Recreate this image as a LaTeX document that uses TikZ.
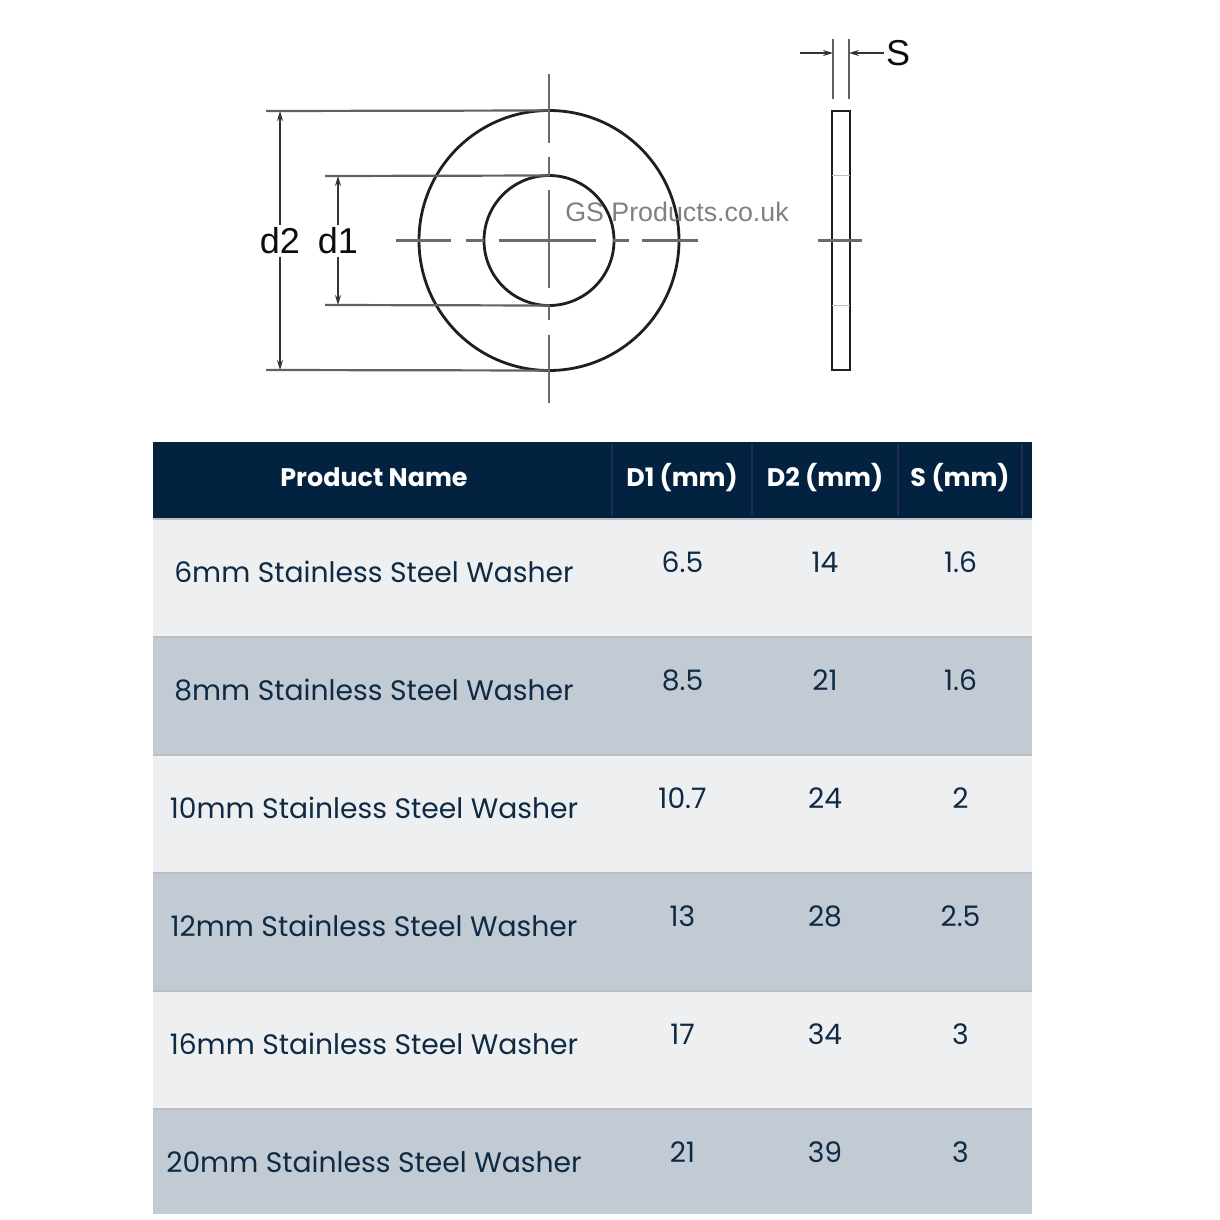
\documentclass[tikz,border=0pt]{standalone}
\usepackage{fontspec}
\setmainfont{Poppins}
\newfontfamily\drawfont{Liberation Sans}
\usetikzlibrary{arrows.meta,positioning}

\definecolor{navy}{HTML}{022240}
\definecolor{inkblue}{HTML}{0F2A45}
\definecolor{rowpale}{HTML}{EEEFF1}
\definecolor{rowgrey}{HTML}{C2CBD3}
\definecolor{rowline}{HTML}{BBBDC0}
\definecolor{headline}{HTML}{1F2C5C}

\begin{document}
\begin{tikzpicture}[%
	x=0.5pt,y=-0.5pt,>={Stealth[length=5pt,width=3pt]},
	outline/.style={draw=black!88,line width=1.4pt,inner sep=0pt,outer sep=0pt},
	extline/.style={draw=black!62,line width=1.1pt},
	centerline/.style={draw=black!58,line width=1.05pt},
	dimline/.style={draw=black!80,line width=0.7pt},
	dimtext/.style={font=\drawfont\fontsize{18}{18}\selectfont,text=black!95,inner sep=1pt},
	rowbox/.style={minimum width=439.5pt,minimum height=59pt,inner sep=0pt,outer sep=0pt},
	rowsep/.style={draw=rowline,line width=1pt},
	headtext/.style={font=\bfseries\fontsize{12.7}{12.7}\selectfont,text=white},
	nametext/.style={font=\fontsize{14.1}{14.1}\selectfont,text=inkblue},
	valtext/.style={font=\fontsize{14.1}{14.1}\selectfont,text=inkblue},
	coldiv/.style={draw=headline,line width=1pt}]

	\useasboundingbox (0,0) rectangle (1220,1220);

	% front view
	\node[outline,circle,minimum size=130pt]	(outer)	at (549,240.5)	{};
	\node[outline,circle,minimum size=65pt]		(inner)	at (549,240.5)	{};

	\coordinate (d2top)		at (266,111);
	\coordinate (d2bot)		at (266,370);
	\coordinate (d1top)		at (325,176);
	\coordinate (d1bot)		at (325,305);
	\draw[extline] (d2top) -- (outer.north);
	\draw[extline] (d2bot) -- (outer.south);
	\draw[extline] (d1top) -- (inner.north);
	\draw[extline] (d1bot) -- (inner.south);

	\node[dimtext]	(d2)	at (280,241)	{d2};
	\node[dimtext]	(d1)	at (338,241)	{d1};
	\draw[dimline,->] (d2.north) -- (280,111);
	\draw[dimline,->] (d2.south) -- (280,370);
	\draw[dimline,->] (d1.north) -- (338,176);
	\draw[dimline,->] (d1.south) -- (338,305);

	% center marks
	\draw[centerline] (549,74) -- (549,143);
	\draw[centerline] (549,157) -- (549,176);
	\draw[centerline] (549,190) -- (549,288);
	\draw[centerline] (549,305) -- (549,320);
	\draw[centerline] (549,335) -- (549,403);
	\draw[centerline] (396,240.5) -- (451,240.5);
	\draw[centerline] (466,240.5) -- (484,240.5);
	\draw[centerline] (499,240.5) -- (596,240.5);
	\draw[centerline] (613,240.5) -- (629,240.5);
	\draw[centerline] (642,240.5) -- (698,240.5);

	\node[font=\drawfont\fontsize{13.4}{13.4}\selectfont,text=black!50,inner sep=0pt]
		(mark) at (677,212) {GS Products.co.uk};

	% side view
	\node[outline,minimum width=9pt,minimum height=129.5pt] (side) at (841,240.5) {};
	\draw[black!25,line width=0.4pt] (side.west |- inner.north) -- (side.east |- inner.north);
	\draw[black!25,line width=0.4pt] (side.west |- inner.south) -- (side.east |- inner.south);
	\draw[centerline] (818,240.5) -- (862,240.5);

	\coordinate (sleft)		at (833,39);
	\coordinate (sright)	at (849,39);
	\draw[extline] (sleft) -- (833,99);
	\draw[extline] (sright) -- (849,99);
	\node[dimtext]	(S)	at (898,53)	{S};
	\draw[dimline,->] (800,53) -- (833,53);
	\draw[dimline,->] (S.west) -- (849,53);

	% table rows
	\node[rowbox,fill=navy,minimum height=38.5pt]	(header)	at (592.5,480.5)	{};
	\node[rowbox,fill=rowpale]					(rowa)		[below=0pt of header]	{};
	\node[rowbox,fill=rowgrey]					(rowb)		[below=0pt of rowa]		{};
	\node[rowbox,fill=rowpale]					(rowc)		[below=0pt of rowb]		{};
	\node[rowbox,fill=rowgrey]					(rowd)		[below=0pt of rowc]		{};
	\node[rowbox,fill=rowpale]					(rowe)		[below=0pt of rowd]		{};
	\node[rowbox,fill=rowgrey,minimum height=52.5pt] (rowf)	[below=0pt of rowe]		{};

	\draw[rowsep] (header.south west) -- (header.south east);
	\draw[rowsep] (rowa.south west) -- (rowa.south east);
	\draw[rowsep] (rowb.south west) -- (rowb.south east);
	\draw[rowsep] (rowc.south west) -- (rowc.south east);
	\draw[rowsep] (rowd.south west) -- (rowd.south east);
	\draw[rowsep] (rowe.south west) -- (rowe.south east);

	\draw[coldiv] (612,444) -- (612,515);
	\draw[coldiv] (752,444) -- (752,515);
	\draw[coldiv] (898,444) -- (898,515);
	\draw[coldiv] (1022,444) -- (1022,515);

	% table header
	\node[headtext]	(hname)	at (374,477.5)	{Product Name};
	\node[headtext]	(hdone)	at (682,477.5)	{D1 (mm)};
	\node[headtext]	(hdtwo)	at (825,477.5)	{D2 (mm)};
	\node[headtext]	(hs)	at (960,477.5)	{S (mm)};

	% table body
	\node[nametext]	(namea)	at (374,572)	{6mm Stainless Steel Washer};
	\node[valtext]	(doa)	at (682.5,562)	{6.5};
	\node[valtext]	(dta)	at (825,562)	{14};
	\node[valtext]	(sa)	at (960.5,562)	{1.6};

	\node[nametext]	(nameb)	at (374,690)	{8mm Stainless Steel Washer};
	\node[valtext]	(dob)	at (682.5,680)	{8.5};
	\node[valtext]	(dtb)	at (825,680)	{21};
	\node[valtext]	(sb)	at (960.5,680)	{1.6};

	\node[nametext]	(namec)	at (374,808)	{10mm Stainless Steel Washer};
	\node[valtext]	(doc)	at (682.5,798)	{10.7};
	\node[valtext]	(dtc)	at (825,798)	{24};
	\node[valtext]	(sc)	at (960.5,798)	{2};

	\node[nametext]	(named)	at (374,926)	{12mm Stainless Steel Washer};
	\node[valtext]	(dod)	at (682.5,916)	{13};
	\node[valtext]	(dtd)	at (825,916)	{28};
	\node[valtext]	(sd)	at (960.5,916)	{2.5};

	\node[nametext]	(namee)	at (374,1044)	{16mm Stainless Steel Washer};
	\node[valtext]	(doe)	at (682.5,1034)	{17};
	\node[valtext]	(dte)	at (825,1034)	{34};
	\node[valtext]	(se)	at (960.5,1034)	{3};

	\node[nametext]	(namef)	at (374,1162)	{20mm Stainless Steel Washer};
	\node[valtext]	(dof)	at (682.5,1152)	{21};
	\node[valtext]	(dtf)	at (825,1152)	{39};
	\node[valtext]	(sf)	at (960.5,1152)	{3};

\end{tikzpicture}
\end{document}
